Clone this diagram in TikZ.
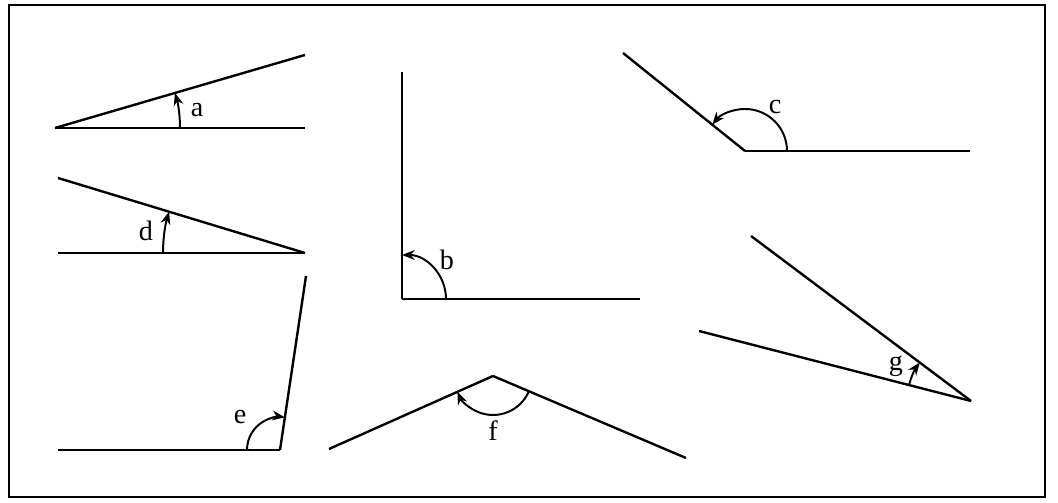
\documentclass[tikz,border=0pt]{standalone}
\usepackage{fontspec}
\setmainfont{Liberation Serif}
\usetikzlibrary{arrows.meta}

\begin{document}
\begin{tikzpicture}[x=0.025cm,y=0.025cm,
    side/.style={-,line width=1.7pt},
    turn/.style={-{Stealth[length=9pt,width=7pt]},line width=1.4pt},
    lbl/.style={font=\fontsize{20}{24}\selectfont,inner sep=0pt}]
  \useasboundingbox (0,0) rectangle (1058,503);
  \draw[line width=1.6pt] (9,6) rectangle (1045,498);
  % angle a
  \coordinate (A) at (55,375);
  \coordinate (Ah) at (305,375);
  \coordinate (Au) at (305,448);
  \path[side] (A) edge (Ah) (A) edge (Au);
  \draw[turn] ([shift={(0:125)}]A) arc[start angle=0,end angle=16.3,radius=125];
  \node[lbl] (la) at (197,393) {a};
  % angle d
  \coordinate (D) at (305,250);
  \coordinate (Dh) at (58,250);
  \coordinate (Du) at (58,325);
  \path[side] (D) edge (Dh) (D) edge (Du);
  \draw[turn] ([shift={(180:142)}]D) arc[start angle=180,end angle=163.1,radius=142];
  \node[lbl] (ld) at (146,272) {d};
  % angle b
  \coordinate (B) at (402,204);
  \coordinate (Bh) at (640,204);
  \coordinate (Bu) at (402,431);
  \path[side] (B) edge (Bh) (B) edge (Bu);
  \draw[turn] ([shift={(0:44)}]B) arc[start angle=0,end angle=90,radius=44];
  \node[lbl] (lb) at (447,243) {b};
  % angle c
  \coordinate (C) at (745,352);
  \coordinate (Ch) at (970,352);
  \coordinate (Cu) at (623,450);
  \path[side] (C) edge (Ch) (C) edge (Cu);
  \draw[turn] ([shift={(0:42)}]C) arc[start angle=0,end angle=141.2,radius=42];
  \node[lbl] (lc) at (775,396) {c};
  % angle e
  \coordinate (E) at (280,53);
  \coordinate (Eh) at (58,53);
  \coordinate (Eu) at (306,227);
  \path[side] (E) edge (Eh) (E) edge (Eu);
  \draw[turn] ([shift={(180:33)}]E) arc[start angle=180,end angle=81.5,radius=33];
  \node[lbl] (le) at (240,86) {e};
  % angle f
  \coordinate (F) at (493,127);
  \coordinate (Fl) at (329,54);
  \coordinate (Fr) at (686,45);
  \path[side] (F) edge (Fl) (F) edge (Fr);
  \draw[turn] ([shift={(-23:39)}]F) arc[start angle=-23,end angle=-156,radius=39];
  \node[lbl] (lf) at (493,72) {f};
  % angle g
  \coordinate (G) at (971,102);
  \coordinate (Gl) at (699,172);
  \coordinate (Gu) at (751,267);
  \path[side] (G) edge (Gl) (G) edge (Gu);
  \draw[turn] ([shift={(165.6:64)}]G) arc[start angle=165.6,end angle=143.1,radius=64];
  \node[lbl] (lg) at (896,137) {g};
\end{tikzpicture}
\end{document}
